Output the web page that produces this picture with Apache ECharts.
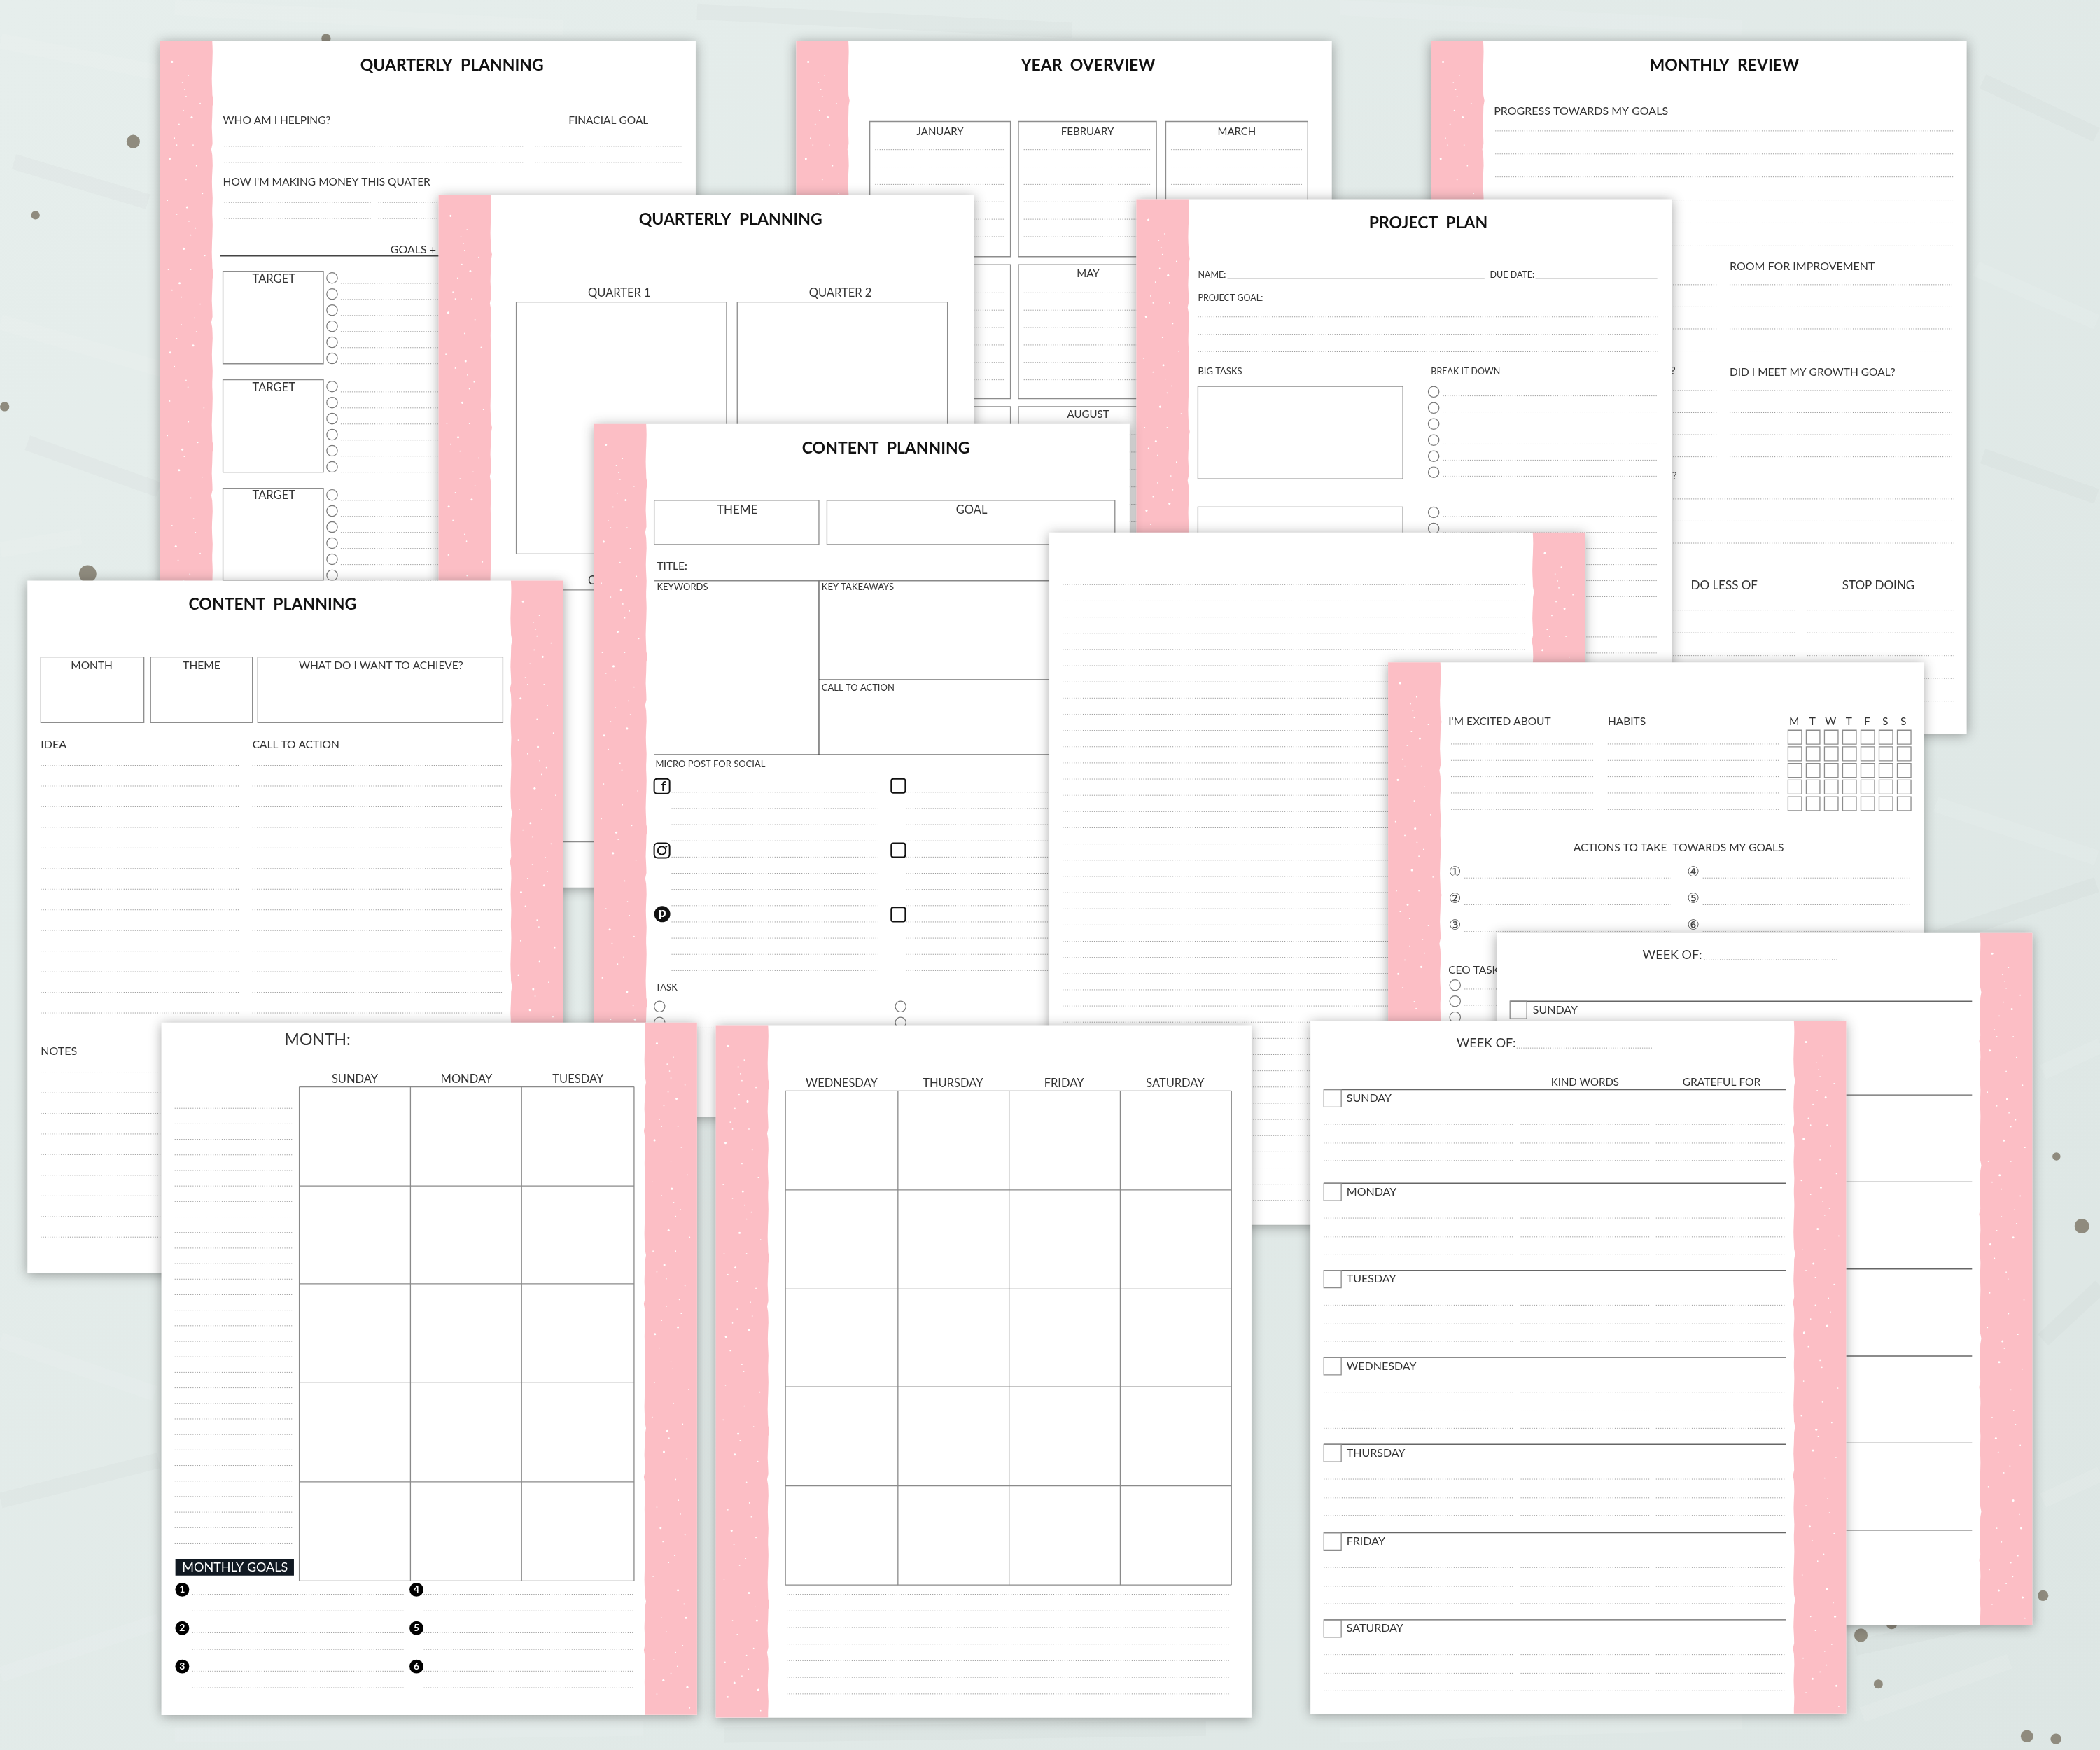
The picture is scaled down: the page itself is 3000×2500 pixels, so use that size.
<!DOCTYPE html>
<html>
<head>
<meta charset="utf-8">
<style>html,body{margin:0;padding:0;background:#e3ebe9}#main{width:3000px;height:2500px}</style>
<script src="https://cdn.jsdelivr.net/npm/echarts@6/dist/echarts.min.js"></script>
</head>
<body>
<div id="main"></div>
<script>
// words printed on the planner sheets
var quarterLabels = ['QUARTER 1', 'QUARTER 2', 'QUARTER 3', 'QUARTER 4'];
var monthLabels = ['JANUARY', 'FEBRUARY', 'MARCH'];
var monthLabels2 = ['MAY', 'AUGUST'];
var habitDays = ['M', 'T', 'W', 'T', 'F', 'S', 'S'];
var monthCols1 = ['SUNDAY', 'MONDAY', 'TUESDAY'];
var monthCols2 = ['WEDNESDAY', 'THURSDAY', 'FRIDAY', 'SATURDAY'];
var weekDays = ['SUNDAY', 'MONDAY', 'TUESDAY', 'WEDNESDAY', 'THURSDAY', 'FRIDAY', 'SATURDAY'];
var circledOutline = ['①', '②', '③', '④', '⑤', '⑥'];
var goalNumbers = ['1', '2', '3', '4', '5', '6'];

var FONT = 'Lato, "Open Sans", sans-serif';
var PINK = '#fcbec5';
var INK = '#333333';
var els = [];

function rect(x, y, w, h, o) { els.push({t: 'rect', x: x, y: y, w: w, h: h, o: o || {}}); }
function box(x, y, w, h) { rect(x, y, w, h, {fill: 'none', stroke: '#8d8d8d', lw: 1.3}); }
function line(x1, y1, x2, y2, c, lw) { els.push({t: 'line', x1: x1, y1: y1, x2: x2, y2: y2, c: c || '#555', lw: lw || 1.4}); }
function dots(x1, x2, y) { els.push({t: 'line', x1: x1, y1: y, x2: x2, y2: y, c: '#9a9a9a', lw: 1, dash: [1.2, 2]}); }
function rows(x1, x2, y, step, n) { for (var i = 0; i < n; i++) dots(x1, x2, y + i * step); }
function circle(x, y, r, o) { els.push({t: 'circle', x: x, y: y, r: r, o: o || {fill: 'none', stroke: '#777', lw: 1.2}}); }
function text(s, x, y, size, o) {
    o = o || {};
    els.push({t: 'text', s: s, x: x, y: y, size: size, align: o.align || 'left', fill: o.fill || INK, weight: o.weight || 400, font: o.font || FONT});
}
function mid(s, x, y, size, o) { o = o || {}; o.align = 'center'; text(s, x, y, size, o); }
function title(s, x, y) { mid(s, x, y, 23, {weight: 700, fill: '#111'}); }

// white specks inside the pink brush strip, as fractions of the strip
var specks = [[.2,.03],[.55,.05],[.8,.09],[.35,.12],[.65,.15],[.15,.17],[.5,.2],[.85,.22],[.3,.25],[.7,.27],[.45,.3],[.6,.33],
    [.2,.36],[.8,.38],[.4,.41],[.65,.44],[.25,.47],[.15,.52],[.55,.55],[.75,.58],[.35,.62],[.6,.66],[.2,.7],[.8,.74],
    [.45,.78],[.65,.82],[.3,.86],[.75,.9],[.5,.94],[.2,.97],[.85,.96],[.42,.06],[.47,.07],[.5,.08],[.44,.1],[.62,.11],
    [.25,.14],[.3,.15],[.72,.18],[.1,.23],[.52,.24],[.56,.26],[.6,.28],[.9,.31],[.12,.33],[.36,.35],[.4,.37],[.68,.4],
    [.72,.42],[.3,.43],[.16,.45],[.5,.49],[.54,.5],[.88,.53],[.1,.57],[.42,.59],[.46,.6],[.84,.63],[.66,.69],[.7,.71],
    [.28,.73],[.33,.75],[.58,.77],[.12,.8],[.78,.84],[.82,.86],[.4,.88],[.6,.91],[.64,.93],[.14,.92],[.34,.95],[.9,.99]];
// the brush edge drifts a little, with a rare small nick
var jag = [0, .2, .3, .2, .1, -.1, -.2, -.3, -.2, 0, .1, .9, .2, .1, 0, -.2, -.3, -.1, .1, .2, -.7, 0, .2, .3, .1, -.1, -.2, -.1, .1, .3, .2, 0];

function strip(x, y, w, h, side) {
    var pts = [], n = 128, i;
    if (side === 'left') {
        pts.push([x, y]);
        for (i = 0; i <= n; i++) pts.push([x + w + jag[i % jag.length], y + h * i / n]);
        pts.push([x, y + h]);
    } else {
        pts.push([x + w, y]);
        for (i = 0; i <= n; i++) pts.push([x + jag[i % jag.length], y + h * i / n]);
        pts.push([x + w, y + h]);
    }
    els.push({t: 'poly', pts: pts, fill: PINK});
    for (i = 0; i < specks.length; i++) {
        circle(x + 2 + (w - 4) * specks[i][0], y + h * specks[i][1], i % 5 === 0 ? .8 : .45, {fill: '#fff'});
    }
}

function page(x, y, side) {
    rect(x, y, 400, 517, {fill: '#fff', shadow: true});
    strip(side === 'left' ? x : x + 361, y, 39, 517, side);
}

// faint creases of the paper behind the sheets
[[0,30,200,70,1],[10,120,110,150,0],[0,240,120,275,1],[20,330,118,365,0],[0,410,60,400,1],[130,5,420,20,1],[520,8,800,22,0],
 [1000,5,1300,20,1],[1480,60,1565,100,0],[1475,200,1565,240,1],[1480,340,1565,370,0],[1445,600,1565,640,1],[1445,700,1565,660,0],
 [1525,800,1568,780,1],[1525,1000,1568,960,0],[1525,1120,1568,1100,1],[1385,1230,1500,1205,0],[1390,1280,1500,1240,1],
 [1000,1295,1300,1285,1],[540,1295,900,1290,0],[130,1295,480,1290,1],[0,1000,115,1040,1],[0,1120,118,1090,0],[0,1250,118,1210,1]].forEach(function (c) {
    els.push({t: 'line', x1: c[0], y1: c[1], x2: c[2], y2: c[3], c: c[4] ? 'rgba(255,255,255,0.09)' : 'rgba(150,165,165,0.05)', lw: 22, blur: 24});
});

// blobs on the paper behind the sheets
[[99,105,5],[26,160,3.2],[3,303,3.5],[243,28,3.5],[65,428,6.5],[1535,863,3],[1554,915,5.5],[1525,1191,4],[1402,1257,3.4],[1389,1220.5,5],[1412,1212,4],[1513,1296,4.6],[1534.6,1298,4]].forEach(function (b) {
    circle(b[0], b[1], b[2], {fill: '#8f8b7e'});
});

// ---- quarterly planning, top left
page(119, 30, 'left');
title('QUARTERLY  PLANNING', 337, 48);
text('WHO AM I HELPING?', 166, 89, 15.5);
text('FINACIAL GOAL', 424, 89, 15.5);
rows(167, 391, 108.5, 12, 2);
rows(399, 509, 108.5, 12, 2);
text("HOW I'M MAKING MONEY THIS QUATER", 166, 135, 15.5);
rows(167, 277, 150.5, 12, 2);
rows(282, 509, 150.5, 12, 2);
text('GOALS + ACTIONS', 291, 186, 16);
line(164, 190.5, 509, 190.5, '#444');
[202, 283, 364].forEach(function (y0) {
    box(166, y0, 75, 69);
    mid('TARGET', 204, y0 + 5.5, 16.5);
    for (var i = 0; i < 6; i++) {
        circle(247.5, y0 + 5 + i * 12, 4);
        dots(254, 509, y0 + 9 + i * 12);
    }
});

// ---- year overview
page(594, 30, 'left');
title('YEAR  OVERVIEW', 812, 48);
[[649, 105], [760, 103], [870, 106]].forEach(function (c, ci) {
    [[90, 101], [197, 100], [303, 100]].forEach(function (r) {
        box(c[0], r[0], c[1], r[1]);
        rows(c[0] + 4, c[0] + c[1] - 4, r[0] + 21, 13, 6);
    });
    mid(monthLabels[ci], c[0] + c[1] / 2, 97.5, 15);
});
mid(monthLabels2[0], 812, 204, 15);
mid(monthLabels2[1], 812, 309, 15);

// ---- monthly review
page(1068, 30, 'left');
title('MONTHLY  REVIEW', 1287, 48);
text('PROGRESS TOWARDS MY GOALS', 1115, 82.5, 16);
rows(1116, 1458, 97, 17.2, 6);
text('ROOM FOR IMPROVEMENT', 1291, 198.5, 16);
rows(1115, 1282, 212, 16.5, 4);
rows(1291, 1458, 212, 16.5, 4);
text('?', 1247, 276.5, 15.5);
text('DID I MEET MY GROWTH GOAL?', 1291, 277.5, 15.5);
rows(1115, 1282, 291, 16.5, 4);
rows(1291, 1458, 291, 16.5, 4);
text('?', 1248, 355, 15.5);
rows(1115, 1458, 372, 16.5, 3);
text('DO LESS OF', 1262, 436.5, 17);
text('STOP DOING', 1375, 436.5, 17);
rows(1115, 1340, 455, 17, 5);
rows(1349, 1458, 455, 17, 5);

// ---- quarterly planning, second sheet
page(327, 145, 'left');
title('QUARTERLY  PLANNING', 545, 163);
[[385, 225, 0], [550, 225, 1], [385, 440, 2], [550, 440, 3]].forEach(function (q) {
    box(q[0], q[1], 157, 188);
    mid(quarterLabels[q[2]], q[0] + 77, q[1] - 7, 16.5);
});

// ---- project plan
page(848, 148, 'left');
title('PROJECT  PLAN', 1066, 166);
text('NAME:', 894, 205, 12.5);
line(916, 207.5, 1108, 207.5, '#666', 1.2);
text('DUE DATE:', 1112, 205, 12.5);
line(1146, 207.5, 1237, 207.5, '#666', 1.2);
text('PROJECT GOAL:', 894, 222, 12.5);
rows(894, 1237, 236, 13, 3);
text('BIG TASKS', 894, 277, 13);
text('BREAK IT DOWN', 1068, 277, 12.5);
[288, 378, 468].forEach(function (y0) {
    box(894, y0, 153, 69);
    for (var i = 0; i < 6; i++) {
        circle(1070, y0 + 4 + i * 12, 4);
        dots(1077, 1237, y0 + 7 + i * 12);
    }
});

// ---- content planning, centre
page(443, 316, 'left');
title('CONTENT  PLANNING', 661, 334);
box(488, 373, 123, 33);
mid('THEME', 550, 380, 17);
box(617, 373, 215, 33);
mid('GOAL', 725, 380, 16.5);
text('TITLE:', 490, 422, 15.5);
line(488, 433, 832, 433, '#888', 2);
text('KEYWORDS', 490, 438, 13);
line(611, 433, 611, 563, '#777', 1.6);
text('KEY TAKEAWAYS', 613, 438, 13);
line(611, 507, 832, 507, '#333');
text('CALL TO ACTION', 613, 513, 13);
line(488, 563, 832, 563, '#333');
text('MICRO POST FOR SOCIAL', 489, 570, 13);
rows(501, 655, 591, 12.1, 12);
rows(676, 832, 591, 12.1, 12);
// facebook / instagram / pinterest marks
rect(488, 581, 11.5, 11, {fill: 'none', stroke: '#111', lw: 2, r: 4});
mid('f', 495, 587, 19, {weight: 700, fill: '#111'});
rect(488, 629, 11.5, 11, {fill: 'none', stroke: '#111', lw: 2, r: 5});
circle(493.7, 634.5, 3, {fill: 'none', stroke: '#111', lw: 2});
circle(497, 631.5, .7, {fill: '#111'});
circle(494, 682, 6, {fill: '#111'});
mid('p', 494, 681, 19, {weight: 900, fill: '#fff'});
[581, 629, 677].forEach(function (y0) {
    rect(665, y0, 10.5, 10.5, {fill: 'none', stroke: '#111', lw: 2, r: 3});
});
text('TASK', 489, 737, 13);
[751, 763].forEach(function (y0) {
    circle(492, y0, 4);
    dots(497, 650, y0 + 4);
    circle(672, y0, 4);
    dots(678, 832, y0 + 4);
});

// ---- lined sheet
page(783, 397, 'right');
rows(793, 1139, 436, 12.1, 39);

// ---- content planning, left
page(20, 433, 'right');
title('CONTENT  PLANNING', 203, 451);
box(30, 490, 77, 49);
mid('MONTH', 68, 496.5, 15.5);
box(112, 490, 76, 49);
mid('THEME', 150, 496.5, 15.5);
box(192, 490, 183, 49);
mid('WHAT DO I WANT TO ACHIEVE?', 284, 496.5, 15.5);
text('IDEA', 30, 555.5, 16);
text('CALL TO ACTION', 188, 555.5, 15.5);
rows(30, 178, 571, 15.4, 13);
rows(188, 375, 571, 15.4, 13);
text('NOTES', 30, 784.5, 16);
rows(30, 375, 800, 15.4, 9);

// ---- habits sheet
page(1036, 494, 'left');
text("I'M EXCITED ABOUT", 1081, 538.5, 15.5);
text('HABITS', 1200, 538.5, 15.5);
rows(1083, 1190, 555, 12.2, 5);
rows(1200, 1328, 555, 12.2, 5);
habitDays.forEach(function (d, i) {
    mid(d, 1339.2 + i * 13.6, 538.5, 15.5);
    for (var r = 0; r < 5; r++) box(1334.6 + i * 13.6, 544.7 + r * 12.4, 10.2, 10.4);
});
mid('ACTIONS TO TAKE  TOWARDS MY GOALS', 1253, 632.5, 15.5);
circledOutline.forEach(function (c, i) {
    var left = i < 3, y0 = 651 + (i % 3) * 20;
    mid(c, left ? 1086 : 1264, y0, 20, {font: '"DejaVu Sans"', weight: 400, fill: '#444'});
    dots(left ? 1093 : 1271, left ? 1247 : 1425, y0 + 4);
});
text('CEO TASK', 1081, 724, 15.5);
[735, 747, 759].forEach(function (y0) {
    circle(1086, y0, 4);
    dots(1093, 1425, y0 + 3);
});

// ---- weekly sheet, behind
page(1117, 696, 'right');
text('WEEK OF:', 1226, 712.5, 18);
dots(1272, 1372, 716);
[747, 817, 882, 947, 1012, 1077, 1142].forEach(function (y0, i) {
    line(1127, y0, 1472, y0, '#666');
    box(1127, y0, 12.5, 13);
    text(weekDays[i], 1144, y0 + 6.5, 16);
});

// ---- month grid, left half
page(120, 763, 'right');
text('MONTH:', 212, 776, 23);
monthCols1.forEach(function (d, i) { mid(d, 264.5 + i * 83.3, 805.5, 16.5); });
[223, 306, 389, 473].forEach(function (x) { line(x, 811, x, 1180, '#8a8a8a', 1.3); });
[811, 885, 958, 1032, 1106, 1180].forEach(function (y) { line(223, y, 473, y, '#8a8a8a', 1.3); });
rows(130, 218, 827, 11.6, 29);
rect(130.5, 1163.6, 88.5, 12.4, {fill: '#111922'});
mid('MONTHLY GOALS', 175, 1170, 18, {fill: '#fff', weight: 400});
goalNumbers.forEach(function (n, i) {
    var left = i < 3, y0 = 1186.5 + (i % 3) * 28.7, x0 = left ? 135.6 : 310.5;
    circle(x0, y0, 5.2, {fill: '#000'});
    mid(n, x0, y0, 14, {fill: '#fff', weight: 700});
    rows(left ? 143 : 316, left ? 302 : 473, y0 + 3.5, 12.4, 2);
});

// ---- month grid, right half
page(534, 765, 'left');
monthCols2.forEach(function (d, i) { mid(d, 628 + i * 83, 808.5, 16.5); });
[586, 670, 753, 836, 919].forEach(function (x) { line(x, 814, x, 1183, '#8a8a8a', 1.3); });
[814, 888, 962, 1035, 1109, 1183].forEach(function (y) { line(586, y, 919, y, '#8a8a8a', 1.3); });
rows(587, 918, 1190, 12.4, 7);

// ---- weekly sheet, front
page(978, 762, 'right');
text('WEEK OF:', 1087, 778.5, 18);
dots(1132, 1233, 782);
mid('KIND WORDS', 1183, 807.5, 15);
mid('GRATEFUL FOR', 1285, 807.5, 15.5);
[813, 883, 948, 1013, 1078, 1144, 1209].forEach(function (y0, i) {
    line(988, y0, 1333, y0, '#666');
    box(988, y0, 13, 13);
    text(weekDays[i], 1005, y0 + 6.5, 16);
    [26, 40, 53].forEach(function (d) {
        dots(988, 1130, y0 + d);
        dots(1135, 1231, y0 + d);
        dots(1236, 1333, y0 + d);
    });
});

var chart = echarts.init(document.getElementById('main'), null, {renderer: 'canvas'});

function renderItem(params, api) {
    var e = els[params.dataIndex];
    var k = api.size([1, 0])[0];
    var p;
    if (e.t === 'rect') {
        p = api.coord([e.x, e.y]);
        var st = {fill: e.o.fill, stroke: e.o.stroke || null, lineWidth: e.o.lw || 0};
        if (e.o.shadow) {
            st.shadowBlur = 16;
            st.shadowColor = 'rgba(40,40,40,0.42)';
            st.shadowOffsetY = 2;
        }
        return {type: 'rect', shape: {x: p[0], y: p[1], width: e.w * k, height: e.h * k, r: e.o.r || 0}, style: st};
    }
    if (e.t === 'line') {
        var a = api.coord([e.x1, e.y1]), b = api.coord([e.x2, e.y2]);
        var ls = {stroke: e.c, lineWidth: e.lw, lineDash: e.dash || null};
        if (e.blur) {
            ls.shadowBlur = e.blur;
            ls.shadowColor = e.c;
        }
        return {type: 'line', shape: {x1: a[0], y1: a[1], x2: b[0], y2: b[1]}, style: ls};
    }
    if (e.t === 'circle') {
        p = api.coord([e.x, e.y]);
        return {type: 'circle', shape: {cx: p[0], cy: p[1], r: e.r * k}, style: {fill: e.o.fill, stroke: e.o.stroke || null, lineWidth: e.o.lw || 0}};
    }
    if (e.t === 'poly') {
        return {type: 'polygon', shape: {points: e.pts.map(function (q) { return api.coord(q); })}, style: {fill: e.fill}};
    }
    p = api.coord([e.x, e.y]);
    return {type: 'text', style: {x: p[0], y: p[1], text: e.s, fill: e.fill, align: e.align, verticalAlign: 'middle', font: e.weight + ' ' + e.size + 'px ' + e.font}};
}

option = {
    animation: false,
    backgroundColor: {type: 'linear', x: 0, y: 0, x2: 1, y2: 1, colorStops: [{offset: 0, color: '#e6eeec'}, {offset: 1, color: '#dde6e4'}]},
    grid: {left: 0, right: 0, top: 0, bottom: 0},
    xAxis: {type: 'value', min: -0.5, max: 1567.5, show: false},
    yAxis: {type: 'value', min: -0.7, max: 1306.3, inverse: true, show: false},
    series: [{
        type: 'custom',
        progressive: 0,
        silent: true,
        clip: false,
        renderItem: renderItem,
        data: els.map(function (e, i) { return [i, 0]; })
    }]
};
chart.setOption(option);
</script>
</body>
</html>
